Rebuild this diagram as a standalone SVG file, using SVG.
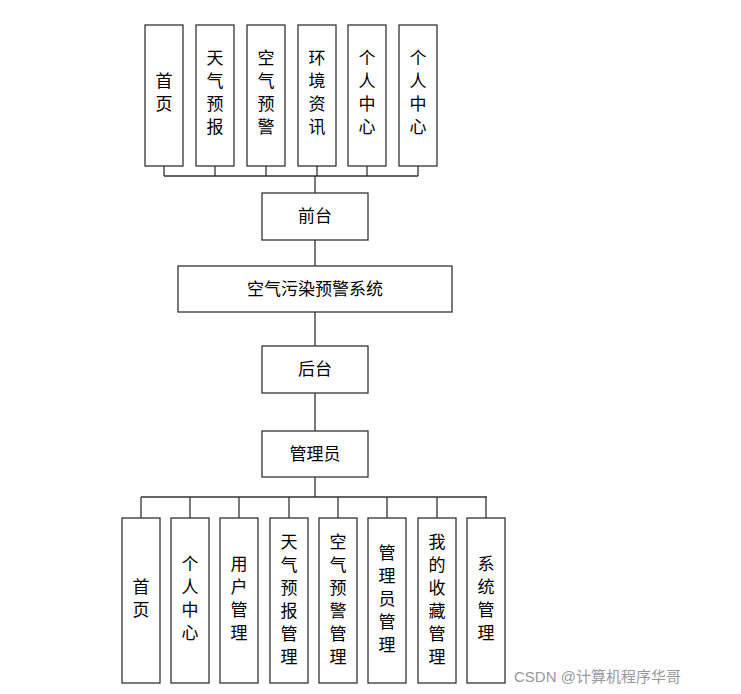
<svg xmlns="http://www.w3.org/2000/svg" width="741" height="694" viewBox="0 0 741 694">
<style>
.b{fill:#fff;stroke:#333;stroke-width:1.3}
.t{font-family:"Noto Sans CJK SC","Liberation Serif",serif;font-size:17px;fill:#000;text-anchor:middle}
.c{stroke:#333;stroke-width:1.3;fill:none}
.w{font-family:"Liberation Sans","Noto Sans CJK SC",sans-serif;font-size:15px;fill:#999}
</style>
<rect width="741" height="694" fill="#fff"/>
<g id="connectors">
<path class="c" d="M164 166V176M215 166V176M266 166V176M317 166V176M367 166V176M418 166V176M164 176H418"/>
<path class="c" stroke-width="2" d="M315 176V193"/>
<path class="c" d="M315 240V266M315 312V346M315 393V431"/>
<path class="c" stroke-width="2" d="M315 477V497"/>
<path class="c" d="M141 497H487M141 497V518M190 497V518M239 497V518M289 497V518M338 497V518M387 497V518M437 497V518M486 497V518"/>
</g>
<g id="t1"><rect class="b" x="145" y="25" width="38" height="141"/><text class="t"><tspan x="164" y="87">首</tspan><tspan x="164" y="110">页</tspan></text></g>
<g id="t2"><rect class="b" x="196" y="25" width="38" height="141"/><text class="t"><tspan x="215" y="64">天</tspan><tspan x="215" y="87">气</tspan><tspan x="215" y="110">预</tspan><tspan x="215" y="133">报</tspan></text></g>
<g id="t3"><rect class="b" x="247" y="25" width="38" height="141"/><text class="t"><tspan x="266" y="64">空</tspan><tspan x="266" y="87">气</tspan><tspan x="266" y="110">预</tspan><tspan x="266" y="133">警</tspan></text></g>
<g id="t4"><rect class="b" x="298" y="25" width="38" height="141"/><text class="t"><tspan x="317" y="64">环</tspan><tspan x="317" y="87">境</tspan><tspan x="317" y="110">资</tspan><tspan x="317" y="133">讯</tspan></text></g>
<g id="t5"><rect class="b" x="348" y="25" width="38" height="141"/><text class="t"><tspan x="367" y="64">个</tspan><tspan x="367" y="87">人</tspan><tspan x="367" y="110">中</tspan><tspan x="367" y="133">心</tspan></text></g>
<g id="t6"><rect class="b" x="399" y="25" width="38" height="141"/><text class="t"><tspan x="418" y="64">个</tspan><tspan x="418" y="87">人</tspan><tspan x="418" y="110">中</tspan><tspan x="418" y="133">心</tspan></text></g>
<g id="front"><rect class="b" x="262" y="193" width="106" height="47"/><text class="t" x="315" y="222">前台</text></g>
<g id="sys"><rect class="b" x="178" y="266" width="274" height="46"/><text class="t" x="315" y="295">空气污染预警系统</text></g>
<g id="back"><rect class="b" x="262" y="346" width="106" height="47"/><text class="t" x="315" y="375">后台</text></g>
<g id="admin"><rect class="b" x="262" y="431" width="106" height="46"/><text class="t" x="315" y="460">管理员</text></g>
<g id="b1"><rect class="b" x="122" y="518" width="38" height="165"/><text class="t"><tspan x="141" y="593">首</tspan><tspan x="141" y="616">页</tspan></text></g>
<g id="b2"><rect class="b" x="171" y="518" width="38" height="165"/><text class="t"><tspan x="190" y="570">个</tspan><tspan x="190" y="593">人</tspan><tspan x="190" y="616">中</tspan><tspan x="190" y="639">心</tspan></text></g>
<g id="b3"><rect class="b" x="220" y="518" width="38" height="165"/><text class="t"><tspan x="239" y="570">用</tspan><tspan x="239" y="593">户</tspan><tspan x="239" y="616">管</tspan><tspan x="239" y="639">理</tspan></text></g>
<g id="b4"><rect class="b" x="270" y="518" width="38" height="165"/><text class="t"><tspan x="289" y="548">天</tspan><tspan x="289" y="571">气</tspan><tspan x="289" y="594">预</tspan><tspan x="289" y="617">报</tspan><tspan x="289" y="640">管</tspan><tspan x="289" y="663">理</tspan></text></g>
<g id="b5"><rect class="b" x="319" y="518" width="38" height="165"/><text class="t"><tspan x="338" y="548">空</tspan><tspan x="338" y="571">气</tspan><tspan x="338" y="594">预</tspan><tspan x="338" y="617">警</tspan><tspan x="338" y="640">管</tspan><tspan x="338" y="663">理</tspan></text></g>
<g id="b6"><rect class="b" x="368" y="518" width="38" height="165"/><text class="t"><tspan x="387" y="559">管</tspan><tspan x="387" y="582">理</tspan><tspan x="387" y="605">员</tspan><tspan x="387" y="628">管</tspan><tspan x="387" y="651">理</tspan></text></g>
<g id="b7"><rect class="b" x="418" y="518" width="38" height="165"/><text class="t"><tspan x="437" y="548">我</tspan><tspan x="437" y="571">的</tspan><tspan x="437" y="594">收</tspan><tspan x="437" y="617">藏</tspan><tspan x="437" y="640">管</tspan><tspan x="437" y="663">理</tspan></text></g>
<g id="b8"><rect class="b" x="467" y="518" width="38" height="165"/><text class="t"><tspan x="486" y="570">系</tspan><tspan x="486" y="593">统</tspan><tspan x="486" y="616">管</tspan><tspan x="486" y="639">理</tspan></text></g>
<text class="w" x="514" y="682">CSDN @计算机程序华哥</text>
</svg>
